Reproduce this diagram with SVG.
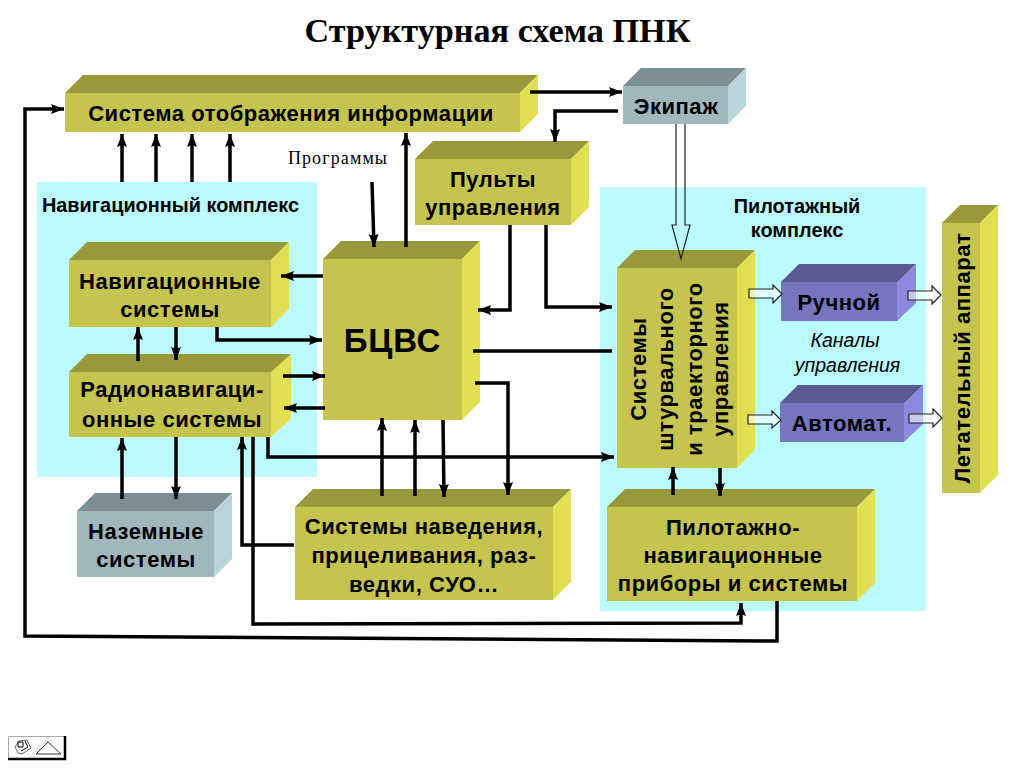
<svg xmlns="http://www.w3.org/2000/svg" width="1024" height="768" viewBox="0 0 1024 768">
<style>
.f{fill:#C4C44F}.t{fill:#99993C}.s{fill:#E0E052}
.bf{fill:#A0B7BE}.bt{fill:#7D8F95}.bs{fill:#B9D5DC}
.pf{fill:#7575C0}.pt{fill:#5B5B94}.ps{fill:#8A8ADE}
.panel{fill:#BBFBFF}
text{font-family:"Liberation Sans",Arial,sans-serif;font-weight:bold;fill:#000;text-anchor:middle}
.l{font-size:22px;letter-spacing:.55px}
.sm{font-size:19.9px}
.it{font-weight:normal;font-style:italic;font-size:19.5px}
.c{fill:none;stroke:#000;stroke-width:3.5;stroke-linejoin:miter}
.a{marker-end:url(#ah)}
.o{fill:none;stroke:#222;stroke-width:1.2}
.o2{fill:#fff;fill-opacity:.55;stroke:#222;stroke-width:1.2}
</style>
<defs>
<marker id="ah" markerUnits="userSpaceOnUse" markerWidth="14" markerHeight="12" refX="13" refY="6" orient="auto"><path d="M0,1L13,6L0,11L2,6Z" fill="#000"/></marker>
</defs>
<rect width="1024" height="768" fill="#fff"/>
<text id="title" x="497.500" y="42" style="font-family:'Liberation Serif','Times New Roman',serif;font-size:34.200px">Структурная схема ПНК</text>

<g id="panel-nav"><rect class="panel" x="37" y="182" width="280" height="295"/><text class="sm" x="170.500" y="212">Навигационный комплекс</text></g>
<g id="panel-pilot"><rect class="panel" x="600" y="187" width="326" height="424"/><text class="sm" x="797" y="213">Пилотажный</text><text class="sm" x="797" y="237">комплекс</text></g>

<g id="n-sys-otobr"><path class="t" d="M65,93L83,75H538L520,93Z"/><path class="s" d="M520,93L538,75V114L520,132Z"/><rect class="f" x="65" y="93" width="455" height="39"/><text class="l" x="291" y="121">Система отображения информации</text></g>
<g id="n-ekipazh"><path class="bt" d="M623,86L641,68H746L728,86Z"/><path class="bs" d="M728,86L746,68V106L728,124Z"/><rect class="bf" x="623" y="86" width="105" height="38"/><text class="l" x="676" y="114">Экипаж</text></g>
<g id="n-pulty"><path class="t" d="M415,159L433,141H589L571,159Z"/><path class="s" d="M571,159L589,141V207L571,225Z"/><rect class="f" x="415" y="159" width="156" height="66"/><text class="l" x="493" y="187">Пульты</text><text class="l" x="493" y="215">управления</text></g>
<g id="n-nav"><path class="t" d="M69,260L87,242H289L271,260Z"/><path class="s" d="M271,260L289,242V309L271,327Z"/><rect class="f" x="69" y="260" width="202" height="67"/><text class="l" x="170" y="289">Навигационные</text><text class="l" x="170" y="317">системы</text></g>
<g id="n-radio"><path class="t" d="M69,372L87,354H291L273,372Z"/><path class="s" d="M271,372L291,354V419L271,437Z"/><rect class="f" x="69" y="372" width="202" height="65"/><text class="l" x="172" y="397">Радионавигаци-</text><text class="l" x="172" y="427">онные системы</text></g>
<g id="n-bcvs"><path class="t" d="M323,259L341,241H480L462,259Z"/><path class="s" d="M462,259L480,241V402L462,420Z"/><rect class="f" x="323" y="259" width="139" height="161"/><text x="392.500" y="352" style="font-size:33px;letter-spacing:.8px">БЦВС</text></g>
<g id="n-nazem"><path class="bt" d="M77,511L95,493H232L214,511Z"/><path class="bs" d="M214,511L232,493V559L214,577Z"/><rect class="bf" x="77" y="511" width="137" height="66"/><text class="l" x="146" y="539">Наземные</text><text class="l" x="146" y="567">системы</text></g>
<g id="n-naved"><path class="t" d="M295,507L313,489H571L553,507Z"/><path class="s" d="M553,507L571,489V582L553,600Z"/><rect class="f" x="295" y="507" width="258" height="93"/><text class="l" x="424" y="534">Системы наведения,</text><text class="l" x="424" y="563">прицеливания, раз-</text><text class="l" x="424" y="592">ведки, СУО…</text></g>
<g id="n-shturv"><path class="t" d="M617,268L635,250H755L737,268Z"/><path class="s" d="M737,268L755,250V450L737,468Z"/><rect class="f" x="617" y="268" width="120" height="200"/><text class="l" transform="translate(646,369) rotate(-90)">Системы</text><text class="l" transform="translate(673,369) rotate(-90)">штурвального</text><text class="l" transform="translate(702,369) rotate(-90)">и траекторного</text><text class="l" transform="translate(728,369) rotate(-90)">управления</text></g>
<g id="n-ruchnoi"><path class="pt" d="M781,282L799,264H916L898,282Z"/><path class="ps" d="M897,282L916,264V303L897,321Z"/><rect class="pf" x="781" y="282" width="116" height="39"/><text class="l" x="839" y="310">Ручной</text></g>
<g id="n-avtomat"><path class="pt" d="M780,403L798,385H923L905,403Z"/><path class="ps" d="M904,403L923,385V424L904,442Z"/><rect class="pf" x="780" y="403" width="124" height="39"/><text class="l" x="842" y="431">Автомат.</text></g>
<g id="n-pilot"><path class="t" d="M607,507L625,489H875L857,507Z"/><path class="s" d="M857,507L875,489V583L857,601Z"/><rect class="f" x="607" y="507" width="250" height="94"/><text class="l" x="733" y="535">Пилотажно-</text><text class="l" x="733" y="563">навигационные</text><text class="l" x="733" y="591">приборы и системы</text></g>
<g id="n-la"><path class="t" d="M942,223L960,205H998L980,223Z"/><path class="s" d="M980,223L998,205V475L980,493Z"/><rect class="f" x="942" y="223" width="38" height="270"/><text class="l" transform="translate(970,358) rotate(-90)">Летательный аппарат</text></g>

<text id="lbl-prog" x="338" y="164" style="font-family:'Liberation Serif',serif;font-weight:normal;font-size:18px;letter-spacing:1.100px">Программы</text>
<g id="lbl-kanaly"><text class="it" x="845" y="347">Каналы</text><text class="it" x="847.500" y="372">управления</text></g>

<g id="connectors">
<path class="c a" d="M122,182V134"/><path class="c a" d="M156,182V134"/><path class="c a" d="M192,182V134"/><path class="c a" d="M230,182V134"/>
<path class="c a" d="M777,601V641L25,636V109H64"/>
<path class="c a" d="M253,437V624L741,623V603"/>
<path class="c a" d="M530,92H622"/>
<path class="c a" d="M618,111H555V142"/>
<path class="c a" d="M406,247V133"/>
<path class="c a" d="M372,182L374,247"/>
<path class="c a" d="M510,225V310H478"/>
<path class="c a" d="M546,225V307H612"/>
<path class="c a" d="M323,276H281"/>
<path class="c a" d="M217,327V340H322"/>
<path class="c a" d="M138,361V327"/><path class="c a" d="M176,327V360"/>
<path class="c a" d="M283,376H325"/><path class="c a" d="M325,408H284"/>
<path class="c a" d="M268,437V457H614"/>
<path class="c" d="M473,351H612"/>
<path class="c a" d="M475,383H508V495"/>
<path class="c a" d="M382,496V418"/><path class="c a" d="M415,496V420"/><path class="c a" d="M443,420L444,497"/>
<path class="c a" d="M294,545H242V437"/>
<path class="c a" d="M122,499V438"/><path class="c a" d="M176,437V499"/>
<path class="c a" d="M673,495V467"/><path class="c a" d="M720,468V496"/>
<path class="o" d="M676,124V225H672L681,259L690,225H685V124"/>
<path class="o2" d="M749,289H773V285L782,294L773,303V298H749Z"/>
<path class="o2" d="M908,291H932V286L941,295L932,304V300H908Z"/>
<path class="o2" d="M748,415H772V411L781,420L772,428V424H748Z"/>
<path class="o2" d="M909,414H933V409L942,418L933,427V423H909Z"/>
</g>

<g id="button">
<path d="M8.500,760V736.500H65" fill="none" stroke="#aaa"/>
<path d="M8,759H65V736" fill="none" stroke="#000" stroke-width="2.500"/>
<path d="M15,747L19,741L27,740L31,748L22,754L18,753Z" fill="none" stroke="#666"/>
<path d="M18,742H23V747H18ZM25,741L28,747L21,751" fill="none" stroke="#000"/>
<path d="M36,754L48,742L61,754Z" fill="none" stroke="#333"/>
</g>
</svg>
